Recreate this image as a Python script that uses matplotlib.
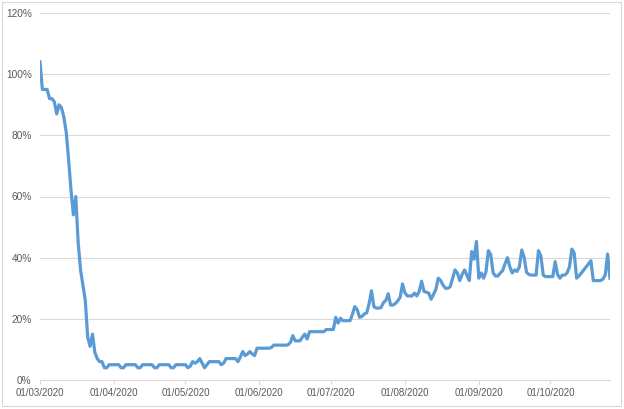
# Daily share (%) from 01/03/2020 to 26/10/2020
import matplotlib
matplotlib.use("Agg")
import matplotlib.pyplot as plt
import matplotlib.dates as mdates
from matplotlib.ticker import PercentFormatter, MultipleLocator
import numpy as np
import pandas as pd

start_date = "2020-03-01"

march = [104, 95, 95, 95, 92, 92, 91, 87, 90, 89, 86, 81, 72, 62, 54, 60,
         45, 36, 31, 26, 14, 11, 15, 9, 7, 6, 6, 4, 4, 5, 5]
april = [5, 5, 5, 4, 4, 5, 5, 5, 5, 5, 4, 4, 5, 5, 5, 5, 5, 4, 4, 5,
         5, 5, 5, 5, 4, 4, 5, 5, 5, 5]
may = [5, 4, 4.5, 6, 5.5, 6, 7, 5.5, 4, 5, 6, 6, 6, 6, 6, 5, 5.5, 7, 7, 7,
       7, 7, 6, 7.5, 9.3, 8, 8.5, 9.3, 8.5, 8, 10.4]
june = [10.4, 10.4, 10.4, 10.4, 10.4, 10.6, 11.4, 11.4, 11.4, 11.4, 11.4,
        11.4, 11.5, 12.3, 14.5, 12.8, 12.8, 12.8, 14, 15, 13.4, 15.8, 15.8,
        15.8, 15.8, 15.8, 15.8, 15.8, 16.5, 16.5]
july = [16.5, 16.5, 20.5, 18.6, 20.2, 19.4, 19.4, 19.4, 19.4, 21.5, 24, 23,
        20.5, 20.8, 21.6, 22, 25, 29.2, 24, 23.5, 23.5, 23.7, 25.3, 26, 28.2,
        24.5, 24.5, 25, 25.9, 27, 31.4]
august = [28.5, 27.5, 27.5, 27.5, 28.4, 27.5, 29, 32.3, 29, 28.7, 28.4, 26.4,
          28, 29.7, 33.3, 32.5, 31, 30, 30, 30.5, 33.3, 36, 35, 32.5, 34.5,
          36, 34.3, 32.5, 42, 39.5, 45.3]
september = [33.3, 35, 33.3, 35.4, 42.3, 41, 35, 34, 34, 35, 35.8, 38, 40,
             37, 35, 36, 35.5, 37, 42.5, 40.1, 35.2, 34.5, 34.3, 34.3, 34.3,
             42.3, 40.6, 34.3, 33.8, 33.8]
october = [33.8, 33.8, 38.7, 34.5, 33.3, 34.3, 34.3, 35, 37, 42.8, 41.5, 33.3,
           34, 35, 36, 37, 38, 39, 32.5, 32.5, 32.5, 32.5, 33, 34.3, 41.2, 33.3]

values = march + april + may + june + july + august + september + october
dates = pd.date_range(start_date, periods=len(values), freq="D")

line_color = "#5B9BD5"
grid_color = "#D9D9D9"
text_color = "#595959"

plt.rcParams["font.family"] = ["Liberation Sans", "DejaVu Sans"]

fig = plt.figure(figsize=(6.24, 4.09), dpi=100)
ax = fig.add_axes([40 / 624, 29 / 409, 570 / 624, 367 / 409])

ax.plot(dates, values, color=line_color, linewidth=2.3, solid_joinstyle="round")

ax.set_ylim(0, 120)
ax.set_xlim(dates[0], dates[-1])
ax.yaxis.set_major_locator(MultipleLocator(20))
ax.yaxis.set_major_formatter(PercentFormatter(decimals=0))
ax.xaxis.set_major_locator(mdates.MonthLocator())
ax.xaxis.set_major_formatter(mdates.DateFormatter("%d/%m/%Y"))

ax.grid(axis="y", color=grid_color, linewidth=0.8)
ax.set_axisbelow(True)
for side in ["top", "right", "left"]:
    ax.spines[side].set_visible(False)
ax.spines["bottom"].set_color(grid_color)
ax.spines["bottom"].set_linewidth(0.8)

ax.tick_params(axis="y", length=0, pad=6, labelsize=7.3, labelcolor=text_color)
ax.tick_params(axis="x", length=3, width=0.8, color=grid_color, pad=3,
               labelsize=7.0, labelcolor=text_color)

# light chart-area border like the spreadsheet frame
fig.patches.append(plt.Rectangle((2 / 624, 3 / 409), 619 / 624, 404 / 409,
                                 transform=fig.transFigure, fill=False,
                                 edgecolor=grid_color, linewidth=0.8))

fig.savefig("out.png", dpi=100)
